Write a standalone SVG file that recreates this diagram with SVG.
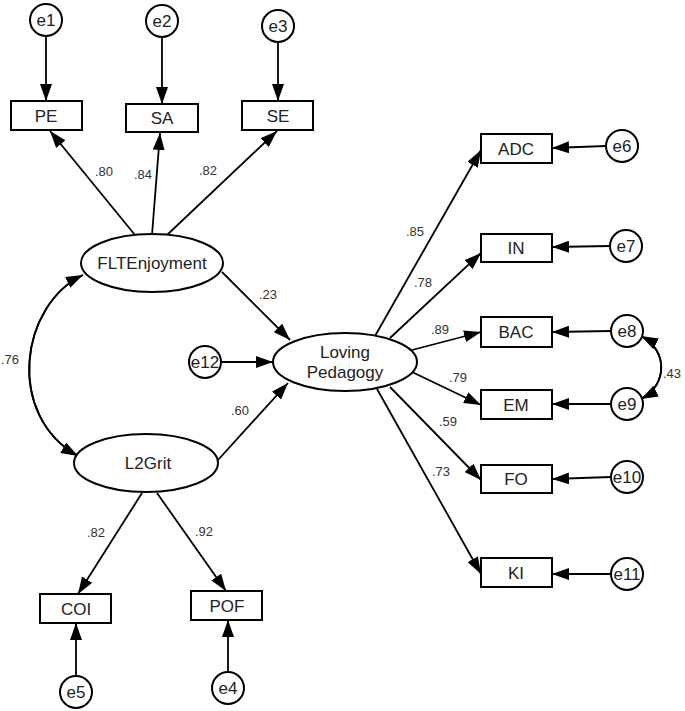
<svg xmlns="http://www.w3.org/2000/svg" width="685" height="711" viewBox="0 0 685 711">
<style>
.n{fill:#fff;stroke:#000;stroke-width:2}
.t{font-family:"Liberation Sans",Arial,sans-serif;font-size:17px;fill:#222;text-anchor:middle;dominant-baseline:central}
.l{font-family:"Liberation Sans",Arial,sans-serif;font-size:13px;fill:#333;text-anchor:middle;dominant-baseline:central}
.c line,.c path{stroke:#000;stroke-width:1.8;fill:none}
</style>
<defs>
<marker id="a" viewBox="0 0 17 12" refX="17" refY="6" markerWidth="17" markerHeight="12" markerUnits="userSpaceOnUse" orient="auto"><path d="M0,0L17,6L0,12z" fill="#000"/></marker>
</defs>
<rect width="685" height="711" fill="#fff"/>
<g class="c">
<line x1="46" y1="37" x2="46" y2="101" marker-end="url(#a)"/>
<line x1="162" y1="38" x2="162" y2="104" marker-end="url(#a)"/>
<line x1="278" y1="43" x2="278" y2="101" marker-end="url(#a)"/>
<line x1="135" y1="235" x2="50" y2="131" marker-end="url(#a)"/>
<line x1="152" y1="235" x2="160" y2="133" marker-end="url(#a)"/>
<line x1="167" y1="235" x2="277" y2="131" marker-end="url(#a)"/>
<line x1="222" y1="272" x2="290" y2="340" marker-end="url(#a)"/>
<line x1="221" y1="362" x2="273" y2="362" marker-end="url(#a)"/>
<line x1="218" y1="460" x2="288" y2="383" marker-end="url(#a)"/>
<path d="M83,275 C20,305 5,415 78,456" marker-end="url(#a)"/>
<path d="M78,456 C5,415 20,305 83,275" marker-end="url(#a)"/>
<line x1="142" y1="493" x2="78" y2="594" marker-end="url(#a)"/>
<line x1="157" y1="493" x2="226" y2="591" marker-end="url(#a)"/>
<line x1="76" y1="676" x2="76" y2="623" marker-end="url(#a)"/>
<line x1="228" y1="672" x2="228" y2="620" marker-end="url(#a)"/>
<line x1="375" y1="336" x2="481" y2="150" marker-end="url(#a)"/>
<line x1="390" y1="338" x2="481" y2="253" marker-end="url(#a)"/>
<line x1="412" y1="350" x2="481" y2="332" marker-end="url(#a)"/>
<line x1="412" y1="372" x2="481" y2="405" marker-end="url(#a)"/>
<line x1="390" y1="387" x2="481" y2="480" marker-end="url(#a)"/>
<line x1="377" y1="389" x2="481" y2="574" marker-end="url(#a)"/>
<line x1="606" y1="146" x2="552" y2="148" marker-end="url(#a)"/>
<line x1="610" y1="246" x2="552" y2="247" marker-end="url(#a)"/>
<line x1="611" y1="331" x2="552" y2="332" marker-end="url(#a)"/>
<line x1="611" y1="404" x2="552" y2="404" marker-end="url(#a)"/>
<line x1="611" y1="477" x2="552" y2="479" marker-end="url(#a)"/>
<line x1="611" y1="574" x2="552" y2="574" marker-end="url(#a)"/>
<path d="M641,399 C668,385 668,350 641,336" marker-end="url(#a)"/>
<path d="M641,336 C668,350 668,385 641,399" marker-end="url(#a)"/>
</g>
<g id="e1"><circle class="n" cx="46" cy="20" r="16"/><text class="t" x="46" y="20">e1</text></g>
<g id="e2"><circle class="n" cx="162" cy="21" r="16"/><text class="t" x="162" y="21">e2</text></g>
<g id="e3"><circle class="n" cx="278" cy="26" r="16"/><text class="t" x="278" y="26">e3</text></g>
<g id="PE"><rect class="n" x="11" y="101" width="71" height="29"/><text class="t" x="46" y="116">PE</text></g>
<g id="SA"><rect class="n" x="126" y="104" width="72" height="28"/><text class="t" x="162" y="118">SA</text></g>
<g id="SE"><rect class="n" x="242" y="101" width="71" height="29"/><text class="t" x="278" y="116">SE</text></g>
<g id="FLTEnjoyment"><ellipse class="n" cx="152" cy="263" rx="71" ry="29"/><text class="t" x="152" y="263">FLTEnjoyment</text></g>
<g id="L2Grit"><ellipse class="n" cx="146" cy="463" rx="72" ry="29"/><text class="t" x="148" y="463">L2Grit</text></g>
<g id="LovingPedagogy"><ellipse class="n" cx="345" cy="362" rx="72" ry="29"/><text class="t" x="345" y="352">Loving</text><text class="t" x="345" y="372">Pedagogy</text></g>
<g id="e12"><circle class="n" cx="205" cy="362" r="16"/><text class="t" x="205" y="362">e12</text></g>
<g id="COI"><rect class="n" x="40" y="594" width="71" height="29"/><text class="t" x="76" y="609">COI</text></g>
<g id="POF"><rect class="n" x="191" y="591" width="71" height="29"/><text class="t" x="227" y="606">POF</text></g>
<g id="e5"><circle class="n" cx="76" cy="692" r="16"/><text class="t" x="76" y="692">e5</text></g>
<g id="e4"><circle class="n" cx="228" cy="688" r="16"/><text class="t" x="228" y="688">e4</text></g>
<g id="ADC"><rect class="n" x="481" y="134" width="71" height="29"/><text class="t" x="516" y="149">ADC</text></g>
<g id="IN"><rect class="n" x="481" y="234" width="71" height="28"/><text class="t" x="516" y="248">IN</text></g>
<g id="BAC"><rect class="n" x="481" y="317" width="71" height="30"/><text class="t" x="516" y="332">BAC</text></g>
<g id="EM"><rect class="n" x="481" y="390" width="71" height="29"/><text class="t" x="516" y="405">EM</text></g>
<g id="FO"><rect class="n" x="481" y="465" width="71" height="28"/><text class="t" x="516" y="479">FO</text></g>
<g id="KI"><rect class="n" x="481" y="558" width="71" height="29"/><text class="t" x="516" y="573">KI</text></g>
<g id="e6"><circle class="n" cx="622" cy="146" r="16"/><text class="t" x="622" y="146">e6</text></g>
<g id="e7"><circle class="n" cx="626" cy="246" r="16"/><text class="t" x="626" y="246">e7</text></g>
<g id="e8"><circle class="n" cx="627" cy="331" r="16"/><text class="t" x="627" y="331">e8</text></g>
<g id="e9"><circle class="n" cx="627" cy="404" r="16"/><text class="t" x="627" y="404">e9</text></g>
<g id="e10"><circle class="n" cx="627" cy="477" r="16"/><text class="t" x="627" y="477">e10</text></g>
<g id="e11"><circle class="n" cx="627" cy="574" r="16"/><text class="t" x="627" y="574">e11</text></g>
<g id="labels">
<text class="l" x="104" y="171">.80</text>
<text class="l" x="143" y="174">.84</text>
<text class="l" x="208" y="170">.82</text>
<text class="l" x="268" y="294">.23</text>
<text class="l" x="10" y="359">.76</text>
<text class="l" x="240" y="410">.60</text>
<text class="l" x="96" y="532">.82</text>
<text class="l" x="204" y="531">.92</text>
<text class="l" x="415" y="231">.85</text>
<text class="l" x="423" y="282">.78</text>
<text class="l" x="440" y="329">.89</text>
<text class="l" x="458" y="377">.79</text>
<text class="l" x="448" y="421">.59</text>
<text class="l" x="441" y="471">.73</text>
<text class="l" x="672" y="373">.43</text>
</g>
</svg>
